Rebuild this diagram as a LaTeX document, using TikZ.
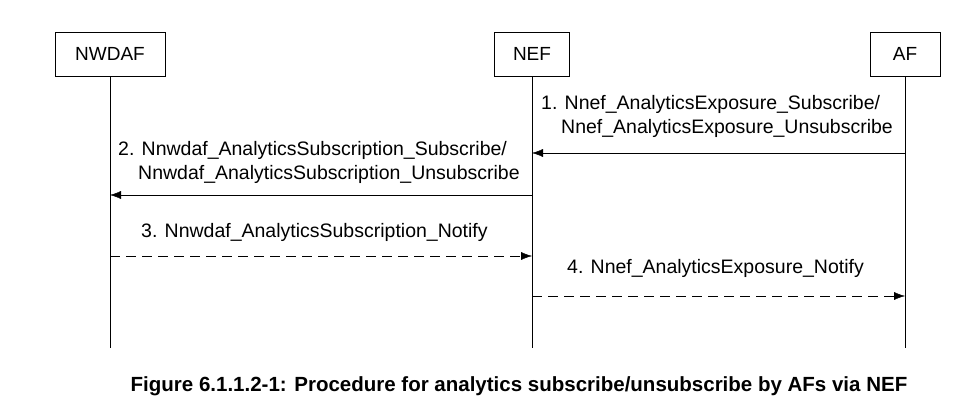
\documentclass[tikz,border=0pt]{standalone}
\usepackage{fontspec}
\setmainfont{Liberation Sans}
\usetikzlibrary{arrows.meta}
\begin{document}
\begin{tikzpicture}[x=1pt, y=-1pt, font=\fontsize{19.5}{24}\selectfont]
        \tikzset{entity/.style={draw, minimum width=75pt, minimum height=44pt, inner sep=0pt, font=\fontsize{19}{22}\selectfont}}
        \tikzset{msg/.style={-{Latex[length=11pt,width=8pt]}}}
        \tikzset{reply/.style={msg, dashed, dash pattern=on 10pt off 6pt}}
        \useasboundingbox (0,0) rectangle (971,411);

        % Entities
        \node (nwdaf) [entity, minimum width=110pt] at (110,54) {NWDAF};
        \node (nef) [entity] at (532,54) {NEF};
        \node (af) [entity, minimum width=70pt] at (905,54) {AF};

        % Lifelines
        \coordinate (nwdaf_end) at (110,348);
        \coordinate (nef_end) at (532,348);
        \coordinate (af_end) at (905,348);
        \draw (nwdaf) -- (nwdaf_end);
        \draw (nef) -- (nef_end);
        \draw (af) -- (af_end);

        % Message points
        \coordinate (af_1) at (905,153);
        \coordinate (nef_1) at (532,153);
        \coordinate (nef_2) at (532,195);
        \coordinate (nwdaf_2) at (110,195);
        \coordinate (nwdaf_3) at (110,256);
        \coordinate (nef_3) at (532,256);
        \coordinate (nef_4) at (532,296);
        \coordinate (af_4) at (905,296);

        % Messages
        \draw [msg] (af_1) -- (nef_1);
        \draw [msg] (nef_2) -- (nwdaf_2);
        \draw [reply] (nwdaf_3) -- (nef_3);
        \draw [reply] (nef_4) -- (af_4);

        % Labels
        \node (l1) [align=left, anchor=west, inner sep=0pt] at (541,116) {1. Nnef\_AnalyticsExposure\_Subscribe/\\ \hspace*{20pt}Nnef\_AnalyticsExposure\_Unsubscribe};
        \node (l2) [align=left, anchor=west, inner sep=0pt] at (118,162) {2. Nnwdaf\_AnalyticsSubscription\_Subscribe/\\ \hspace*{20pt}Nnwdaf\_AnalyticsSubscription\_Unsubscribe};
        \node (l3) [anchor=west, inner sep=0pt] at (141,232) {3. Nnwdaf\_AnalyticsSubscription\_Notify};
        \node (l4) [anchor=west, inner sep=0pt] at (567,268) {4. Nnef\_AnalyticsExposure\_Notify};

        % Caption
        \node (caption) [font=\fontsize{20.5}{24}\bfseries\selectfont] at (519,386) {Figure 6.1.1.2-1: Procedure for analytics subscribe/unsubscribe by AFs via NEF};
\end{tikzpicture}
\end{document}
